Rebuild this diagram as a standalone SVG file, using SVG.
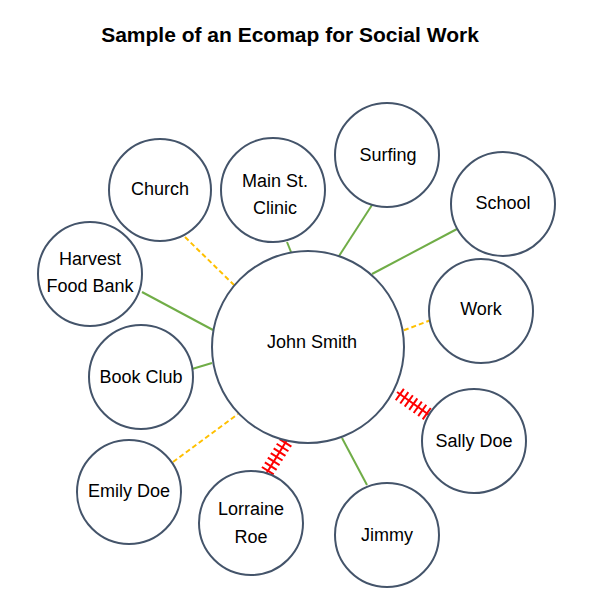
<svg xmlns="http://www.w3.org/2000/svg" width="597" height="602" viewBox="0 0 597 602">
<style>
.n{fill:#fff;stroke:#44546A;stroke-width:2}
.t{font-family:"Liberation Sans",Arial,sans-serif;font-size:18px;fill:#000;text-anchor:middle;dominant-baseline:central}
.title{font-family:"Liberation Sans",Arial,sans-serif;font-size:21px;font-weight:bold;text-anchor:middle}
.g{stroke:#70AD47;stroke-width:2}
.d{stroke:#FFC000;stroke-width:2;stroke-dasharray:5 3}
.r{stroke:#FF0000;stroke-width:2}
.h{stroke:#FF0000;stroke-width:14;stroke-dasharray:2 3.5}
</style>
<rect width="597" height="602" fill="#fff"/>
<text class="title" x="290" y="42">Sample of an Ecomap for Social Work</text>
<g id="connectors">
<line class="d" x1="185" y1="237" x2="234" y2="285"/>
<line class="g" x1="287" y1="242" x2="291" y2="252"/>
<line class="g" x1="372" y1="205" x2="339" y2="256"/>
<line class="g" x1="457" y1="229" x2="372" y2="274"/>
<line class="d" x1="431" y1="320" x2="402" y2="331"/>
<line class="r" x1="397" y1="392" x2="432" y2="417"/>
<line class="h" x1="399" y1="394" x2="430" y2="416"/>
<line class="g" x1="342" y1="438" x2="367" y2="485"/>
<line class="r" x1="287" y1="440" x2="266" y2="474"/>
<line class="h" x1="286" y1="442" x2="267" y2="472"/>
<line class="d" x1="173" y1="462" x2="238" y2="414"/>
<line class="g" x1="192" y1="369" x2="212" y2="363"/>
<line class="g" x1="142" y1="292" x2="213" y2="330"/>
</g>
<g id="john"><circle class="n" cx="308" cy="347" r="96"/><text class="t" x="312" y="342">John Smith</text></g>
<g id="church"><circle class="n" cx="160" cy="190" r="51"/><text class="t" x="160" y="189">Church</text></g>
<g id="clinic"><circle class="n" cx="273" cy="190" r="52"/><text class="t" x="275" y="181">Main St.</text><text class="t" x="275" y="208">Clinic</text></g>
<g id="surfing"><circle class="n" cx="387" cy="155" r="52"/><text class="t" x="388" y="155">Surfing</text></g>
<g id="school"><circle class="n" cx="503" cy="204" r="52"/><text class="t" x="503" y="203">School</text></g>
<g id="work"><circle class="n" cx="481" cy="311" r="52"/><text class="t" x="481" y="309">Work</text></g>
<g id="sally"><circle class="n" cx="474" cy="441" r="52"/><text class="t" x="474" y="441">Sally Doe</text></g>
<g id="jimmy"><circle class="n" cx="387" cy="535" r="52"/><text class="t" x="387" y="535">Jimmy</text></g>
<g id="lorraine"><circle class="n" cx="251" cy="523" r="52"/><text class="t" x="251" y="509">Lorraine</text><text class="t" x="251" y="537">Roe</text></g>
<g id="emily"><circle class="n" cx="129" cy="492" r="52"/><text class="t" x="129" y="491">Emily Doe</text></g>
<g id="bookclub"><circle class="n" cx="141" cy="377" r="52"/><text class="t" x="141" y="377">Book Club</text></g>
<g id="harvest"><circle class="n" cx="90" cy="274" r="52"/><text class="t" x="90" y="259">Harvest</text><text class="t" x="90" y="286">Food Bank</text></g>
</svg>
